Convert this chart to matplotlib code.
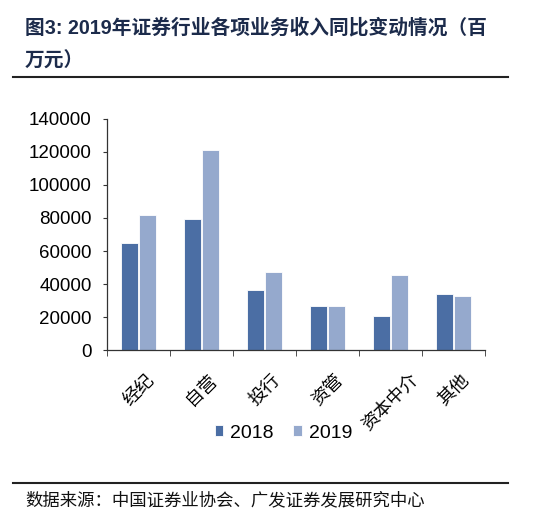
''' 2019年证券行业各项业务收入同比变动情况 '''
import numpy as np
import matplotlib
matplotlib.use('Agg')
import matplotlib.pyplot as plt
import matplotlib.transforms as mtransforms
from matplotlib.lines import Line2D

plt.rcParams['font.family'] = ['Liberation Sans', 'Noto Sans CJK SC', 'DejaVu Sans']

categories = ['经纪', '自营', '投行', '资管', '资本中介', '其他']
rev_2018 = [64700, 79400, 36400, 26700, 20600, 33900]
rev_2019 = [81800, 121200, 47500, 26700, 45600, 32500]
series_names = ['2018', '2019']
yticks = [0, 20000, 40000, 60000, 80000, 100000, 120000, 140000]

color_2018 = '#4b6ea4'
color_2019 = '#95a9cd'
navy = '#1c2b4b'


def main():
    fig = plt.figure(figsize=(5.5, 5.18), dpi=100)
    ax = fig.add_axes([0.1945, 0.3243, 0.6873, 0.446])

    x = np.arange(len(categories))
    w = 0.265
    ax.bar(x - w / 2 - 0.01, rev_2018, w, color=color_2018, label=series_names[0],
           edgecolor='white', linewidth=0.6)
    ax.bar(x + w / 2 + 0.01, rev_2019, w, color=color_2019, label=series_names[1],
           edgecolor='white', linewidth=0.6)

    ax.set_xlim(-0.5, len(categories) - 0.5)
    ax.set_ylim(0, 140000)
    ax.set_yticks(yticks)
    ax.set_yticklabels([str(v) for v in yticks], fontsize=13.5)
    ax.set_xticks(x)
    ax.set_xticklabels(categories, rotation=45, ha='center', va='top', fontsize=13,
                       family=['Noto Sans CJK SC'])
    shift = mtransforms.ScaledTranslation(-6 / 100, 0, fig.dpi_scale_trans)
    for lab in ax.get_xticklabels():
        lab.set_transform(lab.get_transform() + shift)
    ax.tick_params(axis='x', length=0, pad=15)
    ax.set_xticks(np.arange(len(categories) + 1) - 0.5, minor=True)
    ax.tick_params(axis='x', which='minor', length=4, color='#333333')
    ax.tick_params(axis='y', length=3, color='#333333', pad=8)
    for s in ['top', 'right']:
        ax.spines[s].set_visible(False)
    for s in ['left', 'bottom']:
        ax.spines[s].set_color('#333333')
        ax.spines[s].set_linewidth(0.9)

    fig.legend(loc='center', bbox_to_anchor=(0.515, 0.164), ncol=2, frameon=False,
               fontsize=14, handlelength=0.45, handleheight=0.45, handletextpad=0.35,
               columnspacing=1.0)

    fig.text(25 / 550, 1 - 28 / 518, '图3: 2019年证券行业各项业务收入同比变动情况（百',
             fontsize=14.2, fontweight='bold', color=navy, va='center',
             family=['Liberation Sans', 'Noto Sans CJK SC'])
    fig.text(25 / 550, 1 - 61 / 518, '万元）', fontsize=14.2, fontweight='bold',
             color=navy, va='center', family=['Liberation Sans', 'Noto Sans CJK SC'])
    fig.add_artist(Line2D([13 / 550, 508 / 550], [1 - 77 / 518, 1 - 77 / 518],
                          color='#222222', linewidth=1.5))
    fig.add_artist(Line2D([13 / 550, 508 / 550], [1 - 483 / 518, 1 - 483 / 518],
                          color='#222222', linewidth=1.5))
    fig.text(25 / 550, 1 - 500 / 518, '数据来源：中国证券业协会、广发证券发展研究中心',
             fontsize=12.5, color='#111111', va='center', family=['Noto Sans CJK SC'])

    fig.savefig('out.png', dpi=100)


if __name__ == '__main__':
    main()
